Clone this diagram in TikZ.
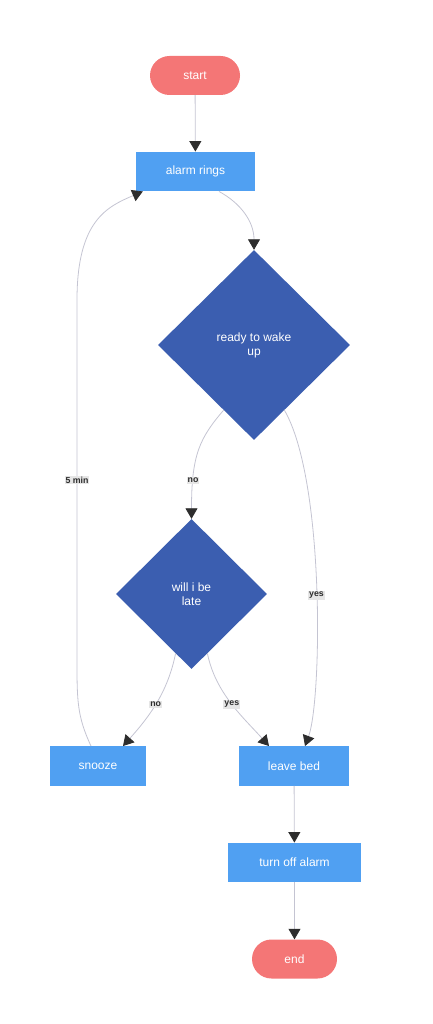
\documentclass[tikz,border=0pt]{standalone}
\usepackage{fontspec}
\setmainfont{Liberation Sans}
\usetikzlibrary{shapes.geometric,arrows.meta,calc}
\definecolor{cTerm}{RGB}{244,118,118}
\definecolor{cProc}{RGB}{80,160,242}
\definecolor{cDec}{RGB}{59,94,176}
\definecolor{cEdge}{RGB}{196,196,210}
\definecolor{cTip}{RGB}{45,45,45}
\definecolor{cLbl}{RGB}{230,230,230}
\begin{document}
\begin{tikzpicture}[x=1pt,y=-1pt,
  basenode/.style={text=white, font=\fontsize{12}{14}\selectfont, inner sep=0pt, align=center},
  termnode/.style={basenode, fill=cTerm, rounded corners=19.5pt, minimum height=39pt},
  procnode/.style={basenode, fill=cProc, minimum height=39.5pt},
  decnode/.style={basenode, diamond, fill=cDec},
  conn/.style={draw=cEdge, line width=0.8pt, -{Triangle[width=12pt,length=10.5pt,color=cTip,fill=cTip]}},
  lbl/.style={fill=cLbl, text=cTip, inner sep=1pt, font=\bfseries\fontsize{8.8}{10}\selectfont}
]
\useasboundingbox (0,0) rectangle (432,1024);

\node[termnode, minimum width=90pt] (start) at (195,75.5) {start};
\node[procnode, minimum width=119pt] (alarm) at (195.5,171.5) {alarm rings};
\node[decnode, minimum width=192pt, minimum height=190pt] (ready) at (254,345) {ready to wake\\up};
\node[decnode, minimum width=151pt, minimum height=150pt] (will) at (191.5,594) {will i be\\late};
\node[procnode, minimum width=96pt] (snooze) at (98,766) {snooze};
\node[procnode, minimum width=110pt] (leave) at (294,766) {leave bed};
\node[procnode, minimum width=133pt] (turnoff) at (294.5,862.5) {turn off alarm};
\node[termnode, minimum width=85pt] (end) at (294.5,959) {end};

\draw[conn] (start) -- (alarm);
\draw[conn] ($(alarm.south)+(23.5,0)$) .. controls +(22,12) and +(0,-28) .. (ready.north);
\draw[conn] (ready.-115) .. controls +(-24,28) and +(0,-64) .. node[lbl,pos=0.76]{no} (will.north);
\draw[conn] (ready.-65) .. controls (325,480) and (322,700) .. node[lbl,pos=0.52]{yes} ($(leave.north)+(11,0)$);
\draw[conn] (will.-105) .. controls +(-8,40) and +(25,-28) .. node[lbl,pos=0.5]{no} ($(snooze.north)+(25,0)$);
\draw[conn] (will.-75) .. controls +(8,40) and +(-25,-28) .. node[lbl,pos=0.5]{yes} ($(leave.north)+(-25,0)$);
\draw[conn] ($(snooze.north)+(-7,0)$) .. controls +(-14,-30) and +(0,40) .. (77,660)
  -- node[lbl]{5 min} (77,300) .. controls +(0,-80) and +(-35,15) .. ($(alarm.south west)+(7,0)$);
\draw[conn] (leave) -- (turnoff);
\draw[conn] (turnoff) -- (end);
\end{tikzpicture}
\end{document}
